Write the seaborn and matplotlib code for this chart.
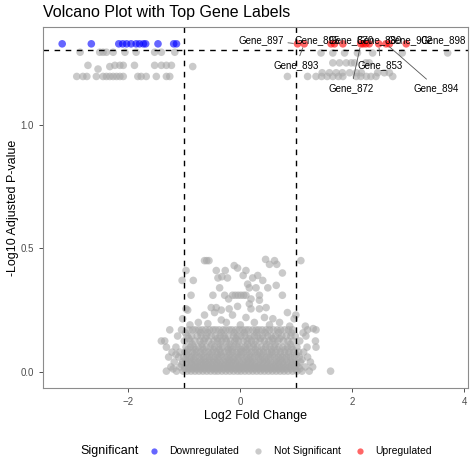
import pandas as pd
import numpy as np
import matplotlib
matplotlib.use('Agg')
import matplotlib.pyplot as plt
from matplotlib.lines import Line2D
import seaborn as sns

# significant genes (top row, all at the same adjusted p-value level)
down_x = [-3.18, -2.66, -2.17, -2.10, -2.03, -1.95, -1.86, -1.80, -1.73, -1.69, -1.47, -1.19, -1.14]
down_y = [1.327] * len(down_x)
up_x = [1.02, 1.14, 1.62, 1.68, 1.83, 2.15, 2.19, 2.24, 2.30, 2.47, 2.60, 2.66, 2.96]
up_y = [1.327] * len(up_x)
up_genes = ['Gene_897', 'Gene_893', 'Gene_895', 'Gene_861', 'Gene_866', 'Gene_872', 'Gene_870',
            'Gene_877', 'Gene_880', 'Gene_853', 'Gene_894', 'Gene_902', 'Gene_898']

# not significant, upper part (p close to the cut-off)
top_ns_x = [-2.86, -2.51, -2.45, -2.39, -2.27, -2.06, -1.86, -1.53, -1.41, -1.17,
            -2.72, -2.54, -2.33, -2.24, -2.15, -2.09, -1.89, -1.53, -1.41, -1.32, -1.23, -0.85,
            -2.92, -2.81, -2.74, -2.57, -2.45, -2.39, -2.33, -2.27, -2.21, -2.15, -2.09, -1.83,
            -1.77, -1.68, -1.50, -1.32, -1.26,
            1.44, 1.65, 1.86, 2.09, 2.36, 2.89, 3.70,
            1.65, 1.77, 1.89, 1.98, 2.04, 2.24, 2.30,
            1.46, 1.59, 1.71, 1.82, 1.95, 2.07, 2.16, 2.45, 2.57, 2.66,
            0.84, 1.20, 1.35, 1.45, 1.55, 1.65, 1.75, 1.83, 2.07, 2.15, 2.25, 2.33, 2.42, 2.72]
top_ns_y = [1.293] * 10 + [1.24, 1.225, 1.235, 1.24, 1.24, 1.24, 1.24, 1.24, 1.24, 1.24, 1.24, 1.235] \
    + [1.195] * 17 + [1.29] * 7 + [1.25] * 7 + [1.21] * 10 + [1.195] * 14

# not significant, scattered middle part
mid_x = [-0.64, -0.60, -0.56, 0.45, 0.61, 0.65, 0.52, 1.08,
         -0.97, -0.43, -0.27, -0.11, -0.05, 0.10, 0.75,
         -1.04, -0.84, -0.40, -0.33, -0.23, 0.05, 0.22, 0.31, 0.40, 0.13, 0.16, 0.28, 0.49, 0.64, -0.37,
         -0.88, -0.49, -0.28, -0.14, -0.09, -0.04, 0.01, 0.06, 0.10, 0.34, 0.75, -0.21, 0.19, 0.34,
         -0.94, -0.64, -0.52, -0.43, -0.46, -0.34, -0.20, -0.05, 0.16, 0.19, 0.34, 0.46, 0.84, 0.99,
         -0.14, 0.10, 0.43, 0.58, -1.03, -0.34, -0.97, 0.96,
         -0.75, -0.58, -0.25, 0.00, 0.25, 0.52, 0.70, -0.90, 0.88, 1.16, 1.30]
mid_y = [0.45, 0.45, 0.45, 0.455, 0.45, 0.435, 0.435, 0.45,
         0.41, 0.41, 0.41, 0.43, 0.42, 0.41, 0.40,
         0.37, 0.37, 0.38, 0.385, 0.38, 0.39, 0.38, 0.39, 0.37, 0.355, 0.34, 0.34, 0.34, 0.35, 0.34,
         0.31, 0.31, 0.31, 0.31, 0.31, 0.31, 0.31, 0.31, 0.31, 0.31, 0.31, 0.295, 0.295, 0.29,
         0.25, 0.23, 0.26, 0.26, 0.24, 0.25, 0.255, 0.265, 0.275, 0.255, 0.255, 0.26, 0.24, 0.23,
         0.23, 0.22, 0.22, 0.215, 0.215, 0.21, 0.255, 0.215,
         0.20, 0.195, 0.20, 0.19, 0.20, 0.19, 0.20, 0.19, 0.185, 0.185, 0.175]

# not significant, dense bottom band (x per adjusted p-value level)
band_levels = [0.17, 0.158, 0.145, 0.135, 0.125, 0.112, 0.10, 0.09, 0.08, 0.07, 0.06, 0.05,
               0.04, 0.03, 0.02, 0.012, 0.003]
band_170 = [-1.26, -1.05, -0.92, -0.85, -0.80, -0.74, -0.68, -0.62, -0.55, -0.49, -0.44, -0.38, -0.31,
            -0.26, -0.20, -0.15, -0.08, -0.02, 0.04, 0.10, 0.15, 0.22, 0.28, 0.33, 0.39, 0.46, 0.52,
            0.59, 0.66, 0.72, 0.79, 0.86, 0.93, 1.20, 1.35]
band_158 = [-0.98, -0.71, -0.58, -0.34, -0.11, 0.07, 0.29, 0.44, 0.68, 0.91, 1.12]
band_145 = [-1.12, -0.95, -0.87, -0.77, -0.70, -0.60, -0.52, -0.45, -0.36, -0.29, -0.22, -0.12, -0.05,
            0.01, 0.08, 0.18, 0.25, 0.31, 0.40, 0.49, 0.55, 0.63, 0.74, 0.82, 0.90, 0.98, 1.17]
band_135 = [-0.92, -0.63, -0.41, -0.27, -0.08, 0.15, 0.36, 0.58, 0.70]
band_125 = [-1.41, -1.35, -1.00, -0.90, -0.81, -0.72, -0.65, -0.57, -0.47, -0.40, -0.33, -0.25, -0.17,
            -0.10, -0.03, 0.05, 0.12, 0.20, 0.27, 0.35, 0.43, 0.51, 0.58, 0.67, 0.77, 0.85, 0.94, 1.06, 1.34]
band_112 = [-0.86, -0.69, -0.51, -0.36, -0.20, -0.07, 0.13, 0.24, 0.47, 0.62, 0.89]
band_100 = [-1.32, -1.15, -0.97, -0.89, -0.83, -0.75, -0.68, -0.61, -0.54, -0.46, -0.39, -0.32, -0.24,
            -0.18, -0.11, -0.04, 0.03, 0.09, 0.16, 0.23, 0.30, 0.37, 0.45, 0.53, 0.60, 0.69, 0.76, 0.84,
            0.91, 1.01, 1.19, 1.35]
band_090 = [-0.94, -0.80, -0.66, -0.48, -0.37, -0.22, -0.15, 0.01, 0.11, 0.27, 0.41, 0.55, 0.66, 0.80, 0.94]
band_080 = [-1.22, -1.08, -0.99, -0.92, -0.85, -0.78, -0.71, -0.63, -0.57, -0.50, -0.43, -0.35, -0.28,
            -0.21, -0.14, -0.07, 0.00, 0.06, 0.13, 0.20, 0.26, 0.34, 0.41, 0.48, 0.56, 0.63, 0.71, 0.79,
            0.87, 0.95, 1.04, 1.13]
band_070 = [-1.15, -0.96, -0.82, -0.69, -0.55, -0.41, -0.34, -0.19, -0.06, 0.02, 0.16, 0.30, 0.37, 0.51,
            0.58, 0.72, 0.86, 1.00]
band_060 = [-1.28, -1.10, -1.01, -0.94, -0.87, -0.80, -0.73, -0.66, -0.59, -0.52, -0.45, -0.38, -0.31,
            -0.24, -0.17, -0.10, -0.03, 0.04, 0.11, 0.18, 0.25, 0.32, 0.39, 0.46, 0.53, 0.61, 0.68, 0.75,
            0.82, 0.89, 0.97, 1.05, 1.20]
band_050 = [-0.98, -0.90, -0.83, -0.71, -0.64, -0.55, -0.47, -0.40, -0.27, -0.20, -0.13, -0.05, 0.08,
            0.15, 0.22, 0.36, 0.43, 0.50, 0.64, 0.72, 0.80, 0.93, 1.10]
band_040 = [-1.18, -1.03, -0.96, -0.89, -0.82, -0.76, -0.69, -0.62, -0.56, -0.49, -0.42, -0.36, -0.29,
            -0.22, -0.16, -0.09, -0.02, 0.05, 0.12, 0.19, 0.26, 0.33, 0.40, 0.47, 0.54, 0.61, 0.68, 0.75,
            0.83, 0.90, 0.98, 1.07, 1.25]
band_030 = [-1.05, -0.95, -0.87, -0.80, -0.73, -0.66, -0.60, -0.53, -0.46, -0.39, -0.33, -0.26, -0.19,
            -0.13, -0.06, 0.01, 0.07, 0.14, 0.21, 0.28, 0.35, 0.42, 0.49, 0.56, 0.63, 0.70, 0.77, 0.85,
            0.92, 1.00]
band_020 = [-1.24, -1.08, -0.99, -0.91, -0.84, -0.77, -0.70, -0.63, -0.57, -0.50, -0.43, -0.37, -0.30,
            -0.23, -0.17, -0.10, -0.03, 0.03, 0.10, 0.17, 0.24, 0.31, 0.38, 0.45, 0.52, 0.59, 0.66, 0.73,
            0.80, 0.88, 0.96, 1.04, 1.16, 1.29]
band_012 = [-1.20, -0.99, -0.92, -0.85, -0.78, -0.71, -0.64, -0.57, -0.50, -0.44, -0.37, -0.30, -0.23,
            -0.16, -0.09, -0.02, 0.05, 0.12, 0.19, 0.26, 0.33, 0.40, 0.47, 0.54, 0.61, 0.68, 0.75, 0.82,
            0.90, 0.98, 1.06]
band_003 = [-1.32, -1.14, -1.02, -0.95, -0.88, -0.81, -0.74, -0.67, -0.60, -0.53, -0.46, -0.40, -0.33,
            -0.26, -0.19, -0.12, -0.05, 0.01, 0.08, 0.15, 0.22, 0.29, 0.36, 0.43, 0.50, 0.57, 0.64, 0.71,
            0.78, 0.85, 0.93, 1.01, 1.10, 1.23, 1.61]
bands = [band_170, band_158, band_145, band_135, band_125, band_112, band_100, band_090, band_080,
         band_070, band_060, band_050, band_040, band_030, band_020, band_012, band_003]

# labelled genes: (gene, text x, text y, draw segment)
label_pos = [('Gene_897', 0.37, 1.343, True), ('Gene_895', 1.37, 1.343, False),
             ('Gene_870', 1.98, 1.343, False), ('Gene_880', 2.47, 1.343, False),
             ('Gene_902', 3.03, 1.343, False), ('Gene_898', 3.62, 1.343, False),
             ('Gene_893', 1.00, 1.242, True), ('Gene_853', 2.50, 1.242, True),
             ('Gene_872', 1.98, 1.149, True), ('Gene_894', 3.50, 1.149, True)]

ns_x = top_ns_x + mid_x
ns_y = top_ns_y + mid_y
for lv, xs in zip(band_levels, bands):
    ns_x = ns_x + xs
    ns_y = ns_y + [lv] * len(xs)

df = pd.DataFrame({
    'log2fc': ns_x + down_x + up_x,
    'padj': ns_y + down_y + up_y,
    'Significant': ['Not Significant'] * len(ns_x) + ['Downregulated'] * len(down_x) + ['Upregulated'] * len(up_x),
})

colors = {'Downregulated': '#0000FF', 'Not Significant': '#A8A8A8', 'Upregulated': '#FF0000'}

plt.rcParams['font.family'] = ['Liberation Sans', 'DejaVu Sans']
fig = plt.figure(figsize=(4.74, 4.74), dpi=100)
ax = fig.add_axes([0.091, 0.181, 0.896, 0.762])

sns.scatterplot(data=df, x='log2fc', y='padj', hue='Significant', palette=colors,
                s=30, alpha=0.6, linewidth=0, legend=False, ax=ax)

ax.axhline(-np.log10(0.05), color='black', linestyle=(0, (4, 4)), linewidth=1)
ax.axvline(-1, color='black', linestyle=(0, (4, 4)), linewidth=1)
ax.axvline(1, color='black', linestyle=(0, (4, 4)), linewidth=1)

gene_pt = dict(zip(up_genes, up_x))
for gene, tx, ty, seg in label_pos:
    px = gene_pt[gene]
    if seg:
        ax.annotate(gene, xy=(px, 1.327), xytext=(tx, ty), ha='center', va='center', fontsize=7,
                    arrowprops=dict(arrowstyle='-', color='#555555', lw=0.6, shrinkA=1, shrinkB=3))
    else:
        ax.text(tx, ty, gene, ha='center', va='center', fontsize=7)

ax.set_xlim(-3.52, 4.06)
ax.set_ylim(-0.066, 1.395)
ax.set_xticks([-2, 0, 2, 4])
ax.set_yticks([0.0, 0.5, 1.0])
ax.set_yticklabels(['0.0', '0.5', '1.0'])
ax.tick_params(labelsize=7, colors='#333333', labelcolor='#4D4D4D', length=3, width=0.6)
for sp in ax.spines.values():
    sp.set_color('#8C8C8C')
    sp.set_linewidth(0.8)
ax.set_xlabel('Log2 Fold Change', fontsize=9, labelpad=2)
ax.set_ylabel('-Log10 Adjusted P-value', fontsize=9, labelpad=1)
ax.set_title('Volcano Plot with Top Gene Labels', fontsize=11.5, loc='left', x=-0.0, pad=7)

handles = [Line2D([], [], marker='o', linestyle='', markersize=4.5, markeredgewidth=0,
                  color=colors[k], alpha=0.6) for k in ['Downregulated', 'Not Significant', 'Upregulated']]
fig.text(0.17, 0.048, 'Significant', fontsize=9, va='center', ha='left')
fig.legend(handles, ['Downregulated', 'Not Significant', 'Upregulated'], loc='center',
           bbox_to_anchor=(0.612, 0.048), ncol=3, frameon=False, fontsize=7.5,
           handletextpad=1.0, columnspacing=1.33, handlelength=1.0)

fig.savefig('out.png', dpi=100)
